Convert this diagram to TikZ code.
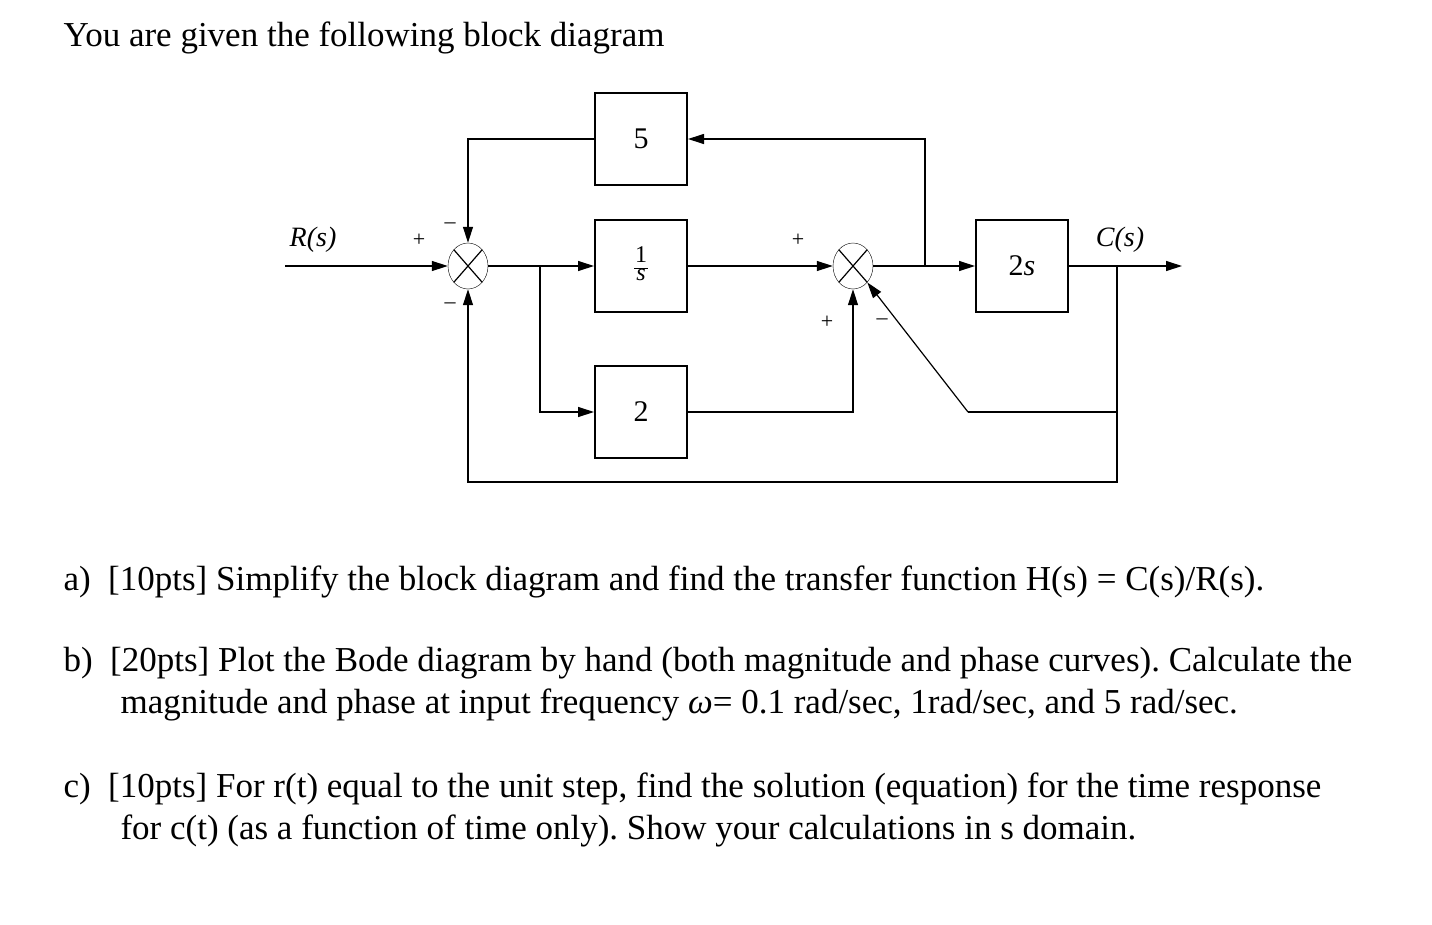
\documentclass[tikz,border=0pt]{standalone}
\usepackage{fontspec}
\setmainfont{Liberation Serif}
\usetikzlibrary{arrows.meta,shapes.geometric}
\frenchspacing
\begin{document}
\begin{tikzpicture}[x=1pt,y=-1pt,
  blk/.style={draw,line width=2pt,minimum width=92pt,minimum height=92pt,font=\fontsize{30}{34}\selectfont},
  sum/.style={draw,ellipse,minimum width=40pt,minimum height=46pt,inner sep=0pt},
  ln/.style={line width=1.2pt},
  ar/.style={ln,-{Triangle[length=16pt,width=10pt]}},
  sg/.style={font=\fontsize{22}{24}\selectfont},
  q/.style={anchor=west,font=\fontsize{35}{42}\selectfont,align=left}]
\useasboundingbox (0,0) rectangle (1432,924);
\node[anchor=west,font=\fontsize{35}{40}\selectfont] (title) at (60,38) {You are given the following block diagram};
% blocks
\node[blk] (b5) at (641,139) {5};
\node[blk,font=\fontsize{24}{22}\selectfont] (bi) at (641,266) {\renewcommand{\arraystretch}{0.8}\setlength{\tabcolsep}{1pt}\begin{tabular}{c}1\\\hline\textit{s}\end{tabular}};
\node[blk] (b2) at (641,412) {2};
\node[blk] (b2s) at (1022,266) {2\textit{s}};
\node[sum] (s1) at (468,266) {};
\node[sum] (s2) at (853,266) {};
\draw[ln] (s1.north west) -- (s1.south east) (s1.north east) -- (s1.south west);
\draw[ln] (s2.north west) -- (s2.south east) (s2.north east) -- (s2.south west);
% coordinates
\coordinate (rin) at (285,266);
\coordinate (j1) at (540,266);
\coordinate (j2) at (925,266);
\coordinate (j3) at (1117,266);
\coordinate (out) at (1182,266);
\coordinate (k) at (968,412);
% connectors
\draw[ar] (rin) -- (s1.west);
\draw[ln] (s1.east) -- (j1); \draw[ar] (j1) -- (bi.west);
\draw[ar] (j1) |- (b2.west);
\draw[ar] (bi.east) -- (s2.west);
\draw[ar] (b2.east) -| (s2.south);
\draw[ln] (s2.east) -- (j2); \draw[ar] (j2) -- (b2s.west);
\draw[ar] (j2) |- (b5.east);
\draw[ar] (b5.west) -| (s1.north);
\draw[ar] (b2s.east) -- (out);
\draw[ln] (j3) |- (k);
\draw[ar] (k) -- (s2.south east);
\draw[ar] (j3) -- (1117,482) -| (s1.south);
% labels
\node[font=\fontsize{28}{30}\selectfont\itshape] (rl) at (313,240) {R(s)};
\node[font=\fontsize{28}{30}\selectfont\itshape] (cl) at (1120,240) {C(s)};
\node[sg] at (419,240) {+};
\node[sg] at (450,226) {–};
\node[sg] at (450,306) {–};
\node[sg] at (798,240) {+};
\node[sg] at (827,322) {+};
\node[sg] at (882,322) {–};
% questions
\node[q] at (60,582) {a)\ \ [10pts] Simplify the block diagram and find the transfer function H(s) = C(s)/R(s).};
\node[q] at (60,684) {b)\ \ [20pts] Plot the Bode diagram by hand (both magnitude and phase curves). Calculate the\\\hspace*{57pt}magnitude and phase at input frequency \textit{ω}= 0.1 rad/sec, 1rad/sec, and 5 rad/sec.};
\node[q] at (60,810) {c)\ \ [10pts] For r(t) equal to the unit step, find the solution (equation) for the time response\\\hspace*{57pt}for c(t) (as a function of time only). Show your calculations in s domain.};
\end{tikzpicture}
\end{document}
